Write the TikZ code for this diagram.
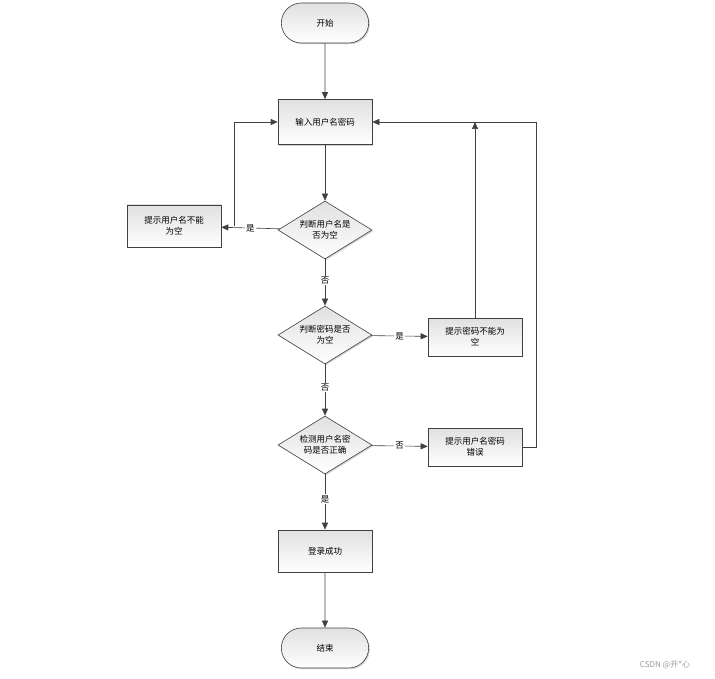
\documentclass[tikz,border=0pt]{standalone}
\usepackage{fontspec}
\setmainfont{Liberation Sans}
\newfontfamily\cjk{Noto Sans CJK SC}
\usetikzlibrary{shapes.geometric,arrows.meta,shadows}
\begin{document}
\begin{tikzpicture}[x=1pt,y=-1pt,
  base/.style={draw=black!75,line width=0.6pt,font=\cjk\fontsize{8.5}{11}\selectfont,align=center,
    top color=black!12,bottom color=white,drop shadow={shadow xshift=1.2pt,shadow yshift=-1.2pt,opacity=0.35}},
  boxn/.style={base,rectangle,minimum width=94pt,minimum height=42pt,inner sep=1pt},
  term/.style={base,rounded rectangle,minimum width=94pt,minimum height=40pt},
  dia/.style={base,diamond,aspect=1.7,minimum width=94pt,minimum height=58pt,inner sep=0pt},
  conn/.style={draw=black!75,line width=0.6pt,-{Triangle[length=7pt,width=6pt]}},
  lab/.style={fill=white,font=\cjk\fontsize{8.5}{10}\selectfont,inner sep=1pt}]
\useasboundingbox (0,0) rectangle (715,679);
\usetikzlibrary{shapes.misc}
\node[term] (start) at (325,23) {开始};
\node[boxn,minimum height=45pt] (input) at (325,122) {输入用户名密码};
\node[dia] (d1) at (325,230) {判断用户名是\\否为空};
\node[boxn] (lbox) at (174,226) {提示用户名不能\\为空};
\node[dia] (d2) at (325,335) {判断密码是否\\为空};
\node[boxn,minimum height=38pt] (r1) at (475,337) {提示密码不能为\\空};
\node[dia] (d3) at (325,445) {检测用户名密\\码是否正确};
\node[boxn,minimum height=38pt] (r2) at (475,447) {提示用户名密码\\错误};
\node[boxn] (ok) at (325,551) {登录成功};
\node[term] (end) at (325,648) {结束};
\draw[conn] (start) -- (input);
\draw[conn] (input) -- (d1);
\draw[conn] (d1) -- node[lab]{是} (lbox);
\coordinate (lj) at ([xshift=13pt]lbox.east);
\draw[conn] (lj) |- (input.west);
\draw[conn] (d1) -- node[lab,pos=0.45]{否} (d2);
\draw[conn] (d2) -- node[lab]{是} (r1);
\draw[conn] (r1.north) -- (r1.north |- input.east);
\draw[conn] (d2) -- node[lab,pos=0.45]{否} (d3);
\draw[conn] (d3) -- node[lab]{否} (r2);
\coordinate (rj) at ([xshift=14pt]r2.east);
\draw[conn] (r2.east) -- (rj) |- (input.east);
\draw[conn] (d3) -- node[lab,pos=0.45]{是} (ok);
\draw[conn] (ok) -- (end);
\node[font=\cjk\fontsize{8}{10}\selectfont,text=black!40] (wm) at (665,665) {CSDN @开*心};
\end{tikzpicture}
\end{document}
